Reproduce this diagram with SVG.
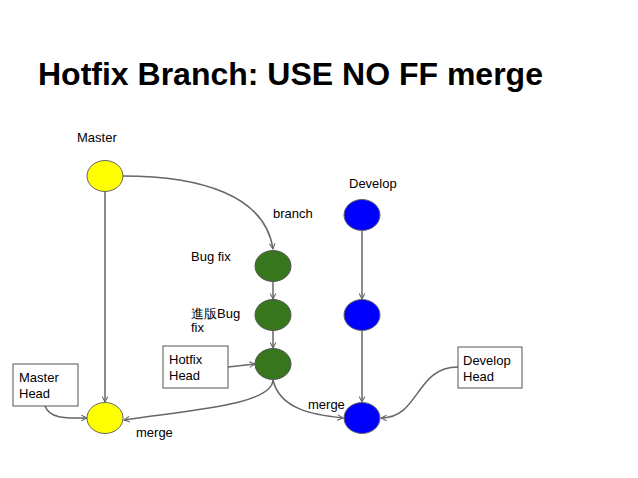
<svg xmlns="http://www.w3.org/2000/svg" width="638" height="478" viewBox="0 0 638 478">
<defs>
<style>
text{font-family:"Liberation Sans",Arial,sans-serif;fill:#000;}
.t{font-size:13px;}
.title{font-size:32px;font-weight:bold;}
.c{fill:none;stroke:#666;stroke-width:1.5;marker-end:url(#a);}
.box{fill:#fff;stroke:#555;stroke-width:1;}
.y{fill:#ffff00;stroke:#666;stroke-width:1;}
.g{fill:#38761d;stroke:#555;stroke-width:1;}
.b{fill:#0000ff;stroke:#666;stroke-width:1;}
</style>
<marker id="a" viewBox="0 0 10 10" refX="9" refY="5" markerWidth="7" markerHeight="7" orient="auto" markerUnits="userSpaceOnUse">
<path d="M1,1 L9,5 L1,9" fill="none" stroke="#666" stroke-width="1.5"/>
</marker>
</defs>
<rect width="638" height="478" fill="#fff"/>
<text class="title" x="38" y="85">Hotfix Branch: USE NO FF merge</text>
<g id="connectors">
<path class="c" d="M123,176 C200,176 265,195 273,249"/>
<path class="c" d="M105,191 L105,402"/>
<path class="c" d="M273,282 L273,299"/>
<path class="c" d="M273,331 L273,348"/>
<path class="c" d="M273,380 C272,405 190,410 124,420"/>
<path class="c" d="M273,380 C280,410 315,415 343,418"/>
<path class="c" d="M362,231 L362,299"/>
<path class="c" d="M362,331 L362,402"/>
<path class="c" d="M458,367 C415,367 420,418 381,418"/>
<path class="c" d="M45,406 C50,420 70,418 87,418"/>
<path class="c" d="M228,367 L255,364"/>
</g>
<g id="master"><ellipse class="y" cx="105" cy="176" rx="18" ry="15.5"/><text class="t" x="77" y="142">Master</text></g>
<g id="masterMerge"><ellipse class="y" cx="105" cy="418" rx="18" ry="15.5"/><text class="t" x="136" y="437">merge</text></g>
<g id="bugfix"><ellipse class="g" cx="273" cy="266" rx="18" ry="15.5"/><text class="t" x="191" y="261">Bug fix</text></g>
<g id="bugfix2"><ellipse class="g" cx="273" cy="315" rx="18" ry="15.5"/><text class="t" x="191" y="318">進版<tspan font-family="Liberation Sans">Bug</tspan></text><text class="t" x="191" y="332">fix</text></g>
<g id="hotfix"><ellipse class="g" cx="273" cy="364" rx="18" ry="15.5"/></g>
<g id="branchLabel"><text class="t" x="273" y="218">branch</text></g>
<g id="develop"><ellipse class="b" cx="362" cy="215" rx="18" ry="15.5"/><text class="t" x="349" y="188">Develop</text></g>
<g id="develop2"><ellipse class="b" cx="362" cy="315" rx="18" ry="15.5"/></g>
<g id="developMerge"><ellipse class="b" cx="362" cy="418" rx="18" ry="15.5"/><text class="t" x="308" y="409">merge</text></g>
<g id="masterHead"><rect class="box" x="13" y="364" width="65" height="42"/><text class="t" x="19" y="382">Master</text><text class="t" x="19" y="398">Head</text></g>
<g id="hotfixHead"><rect class="box" x="163" y="346" width="65" height="42"/><text class="t" x="169" y="364">Hotfix</text><text class="t" x="169" y="380">Head</text></g>
<g id="developHead"><rect class="box" x="458" y="347" width="64" height="41"/><text class="t" x="463" y="365">Develop</text><text class="t" x="463" y="381">Head</text></g>
</svg>
